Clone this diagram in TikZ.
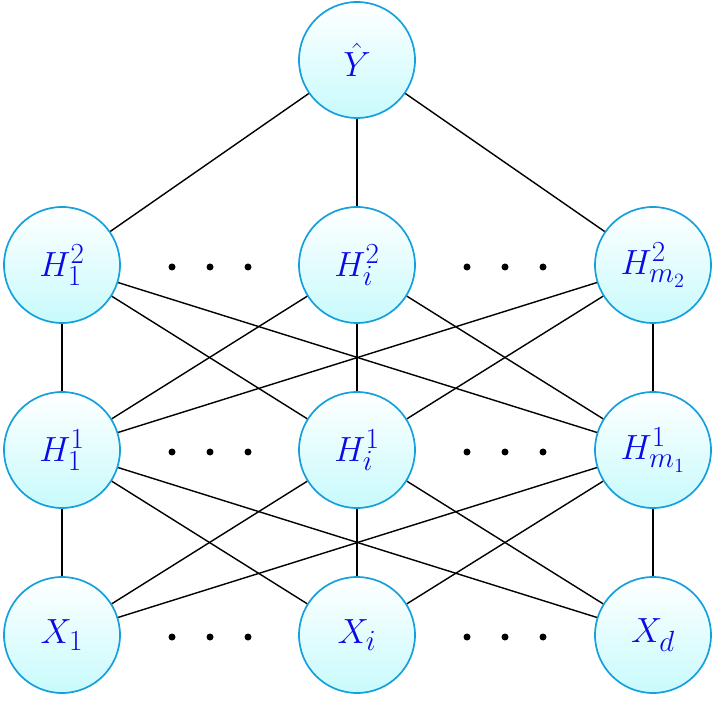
\documentclass[tikz,border=0pt]{standalone}
\begin{document}
\begin{tikzpicture}[x=0.025cm,y=-0.025cm,
  nn/.style={circle,draw={rgb,255:red,20;green,160;blue,220},line width=1.2pt,minimum size={116*0.025cm},inner sep=0pt,
    top color=white,bottom color={rgb,255:red,200;green,250;blue,252},font=\fontsize{28}{34}\selectfont,text={rgb,255:red,10;green,10;blue,230}},
  ed/.style={line width=1pt},
  dt/.style={circle,fill=black,inner sep=0pt,minimum size={7*0.025cm}}]
\useasboundingbox (0,0) rectangle (717,714);
\node[nn] (y) at (357,60) {$\hat{Y}$};
\node[nn] (a1) at (62,265) {$H^2_1$};
\node[nn] (a2) at (357,265) {$H^2_i$};
\node[nn] (a3) at (653,265) {$H^2_{m_2}$};
\node[nn] (b1) at (62,450) {$H^1_1$};
\node[nn] (b2) at (357,450) {$H^1_i$};
\node[nn] (b3) at (653,450) {$H^1_{m_1}$};
\node[nn] (c1) at (62,635) {$X_1$};
\node[nn] (c2) at (357,635) {$X_i$};
\node[nn] (c3) at (653,635) {$X_d$};
\foreach \r in {265,450,635}
  \foreach \x in {172,210,248,467,505,543}
    \node[dt] (d\x\r) at (\x,\r+2) {};
\foreach \a in {a1,a2,a3} \draw[ed] (y) -- (\a);
\foreach \a in {a1,a2,a3} \foreach \b in {b1,b2,b3} \draw[ed] (\a) -- (\b);
\foreach \a in {b1,b2,b3} \foreach \b in {c1,c2,c3} \draw[ed] (\a) -- (\b);
\end{tikzpicture}
\end{document}
